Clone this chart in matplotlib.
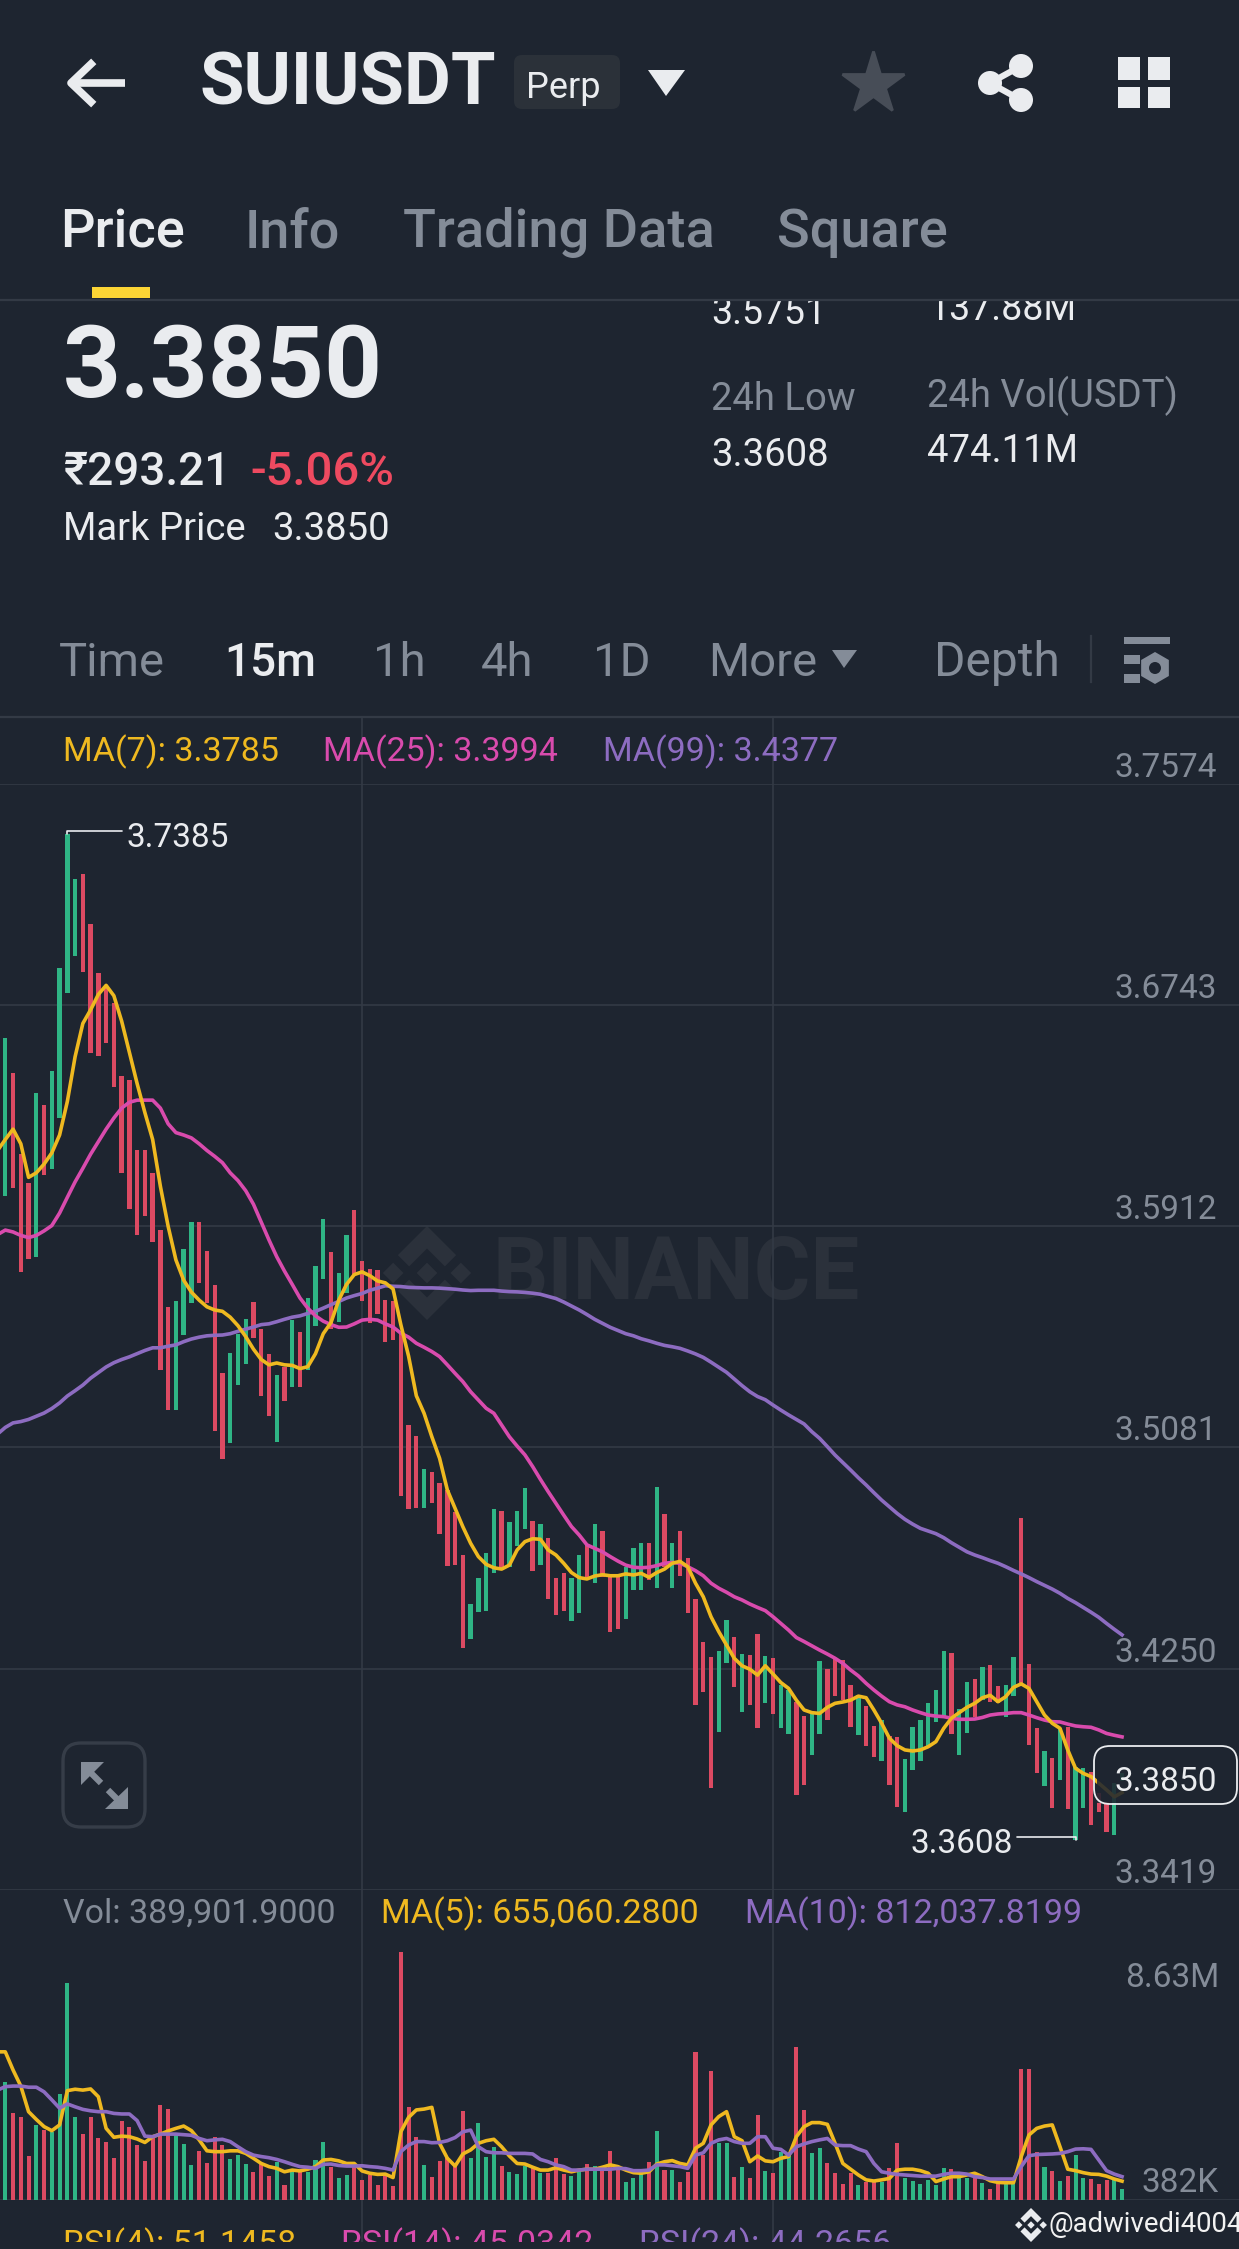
import matplotlib
matplotlib.use("Agg")
import matplotlib.pyplot as plt
from matplotlib.patches import Circle, FancyBboxPatch, Polygon, Rectangle, RegularPolygon
import numpy as np

# candles, index 0 .. 144
high = [3.6618, 3.6487, 3.6182, 3.6073, 3.6410, 3.6367, 3.6496, 3.6883, 3.7385, 3.7215,
        3.7235, 3.7046, 3.6861, 3.6816, 3.6749, 3.6477, 3.6460, 3.6197, 3.6197, 3.6112,
        3.5899, 3.5607, 3.5631, 3.5827, 3.5927, 3.5927, 3.5817, 3.5689, 3.5362, 3.5436,
        3.5508, 3.5565, 3.5627, 3.5525, 3.5433, 3.5352, 3.5383, 3.5559, 3.5513, 3.5642,
        3.5763, 3.5939, 3.5813, 3.5735, 3.5879, 3.5971, 3.5780, 3.5751, 3.5748, 3.5634,
        3.5629, 3.5508, 3.5166, 3.5123, 3.5001, 3.4989, 3.4946, 3.4921, 3.4840, 3.4677,
        3.4494, 3.4589, 3.4683, 3.4850, 3.4843, 3.4800, 3.4842, 3.4927, 3.4803, 3.4793,
        3.4740, 3.4592, 3.4611, 3.4592, 3.4677, 3.4715, 3.4793, 3.4768, 3.4602, 3.4596,
        3.4633, 3.4704, 3.4723, 3.4721, 3.4934, 3.4830, 3.4723, 3.4768, 3.4664, 3.4513,
        3.4350, 3.4293, 3.4316, 3.4433, 3.4368, 3.4306, 3.4300, 3.4382, 3.4296, 3.4289,
        3.4189, 3.4170, 3.4126, 3.4072, 3.4082, 3.4280, 3.4248, 3.4289, 3.4283, 3.4188,
        3.4151, 3.4110, 3.4035, 3.4057, 3.3997, 3.3995, 3.3910, 3.4032, 3.4057, 3.4122,
        3.4170, 3.4318, 3.4310, 3.4097, 3.4201, 3.4210, 3.4255, 3.4264, 3.4185, 3.4188,
        3.4293, 3.4815, 3.4266, 3.4026, 3.3942, 3.3913, 3.4026, 3.4032, 3.3882, 3.3876,
        3.3863, 3.3782, 3.3751, 3.3820, 3.3860]
low = [3.6025, 3.6056, 3.5738, 3.5790, 3.5795, 3.6105, 3.6127, 3.6318, 3.6786, 3.6927,
       3.6866, 3.6561, 3.6549, 3.6598, 3.6434, 3.6113, 3.5976, 3.5879, 3.5949, 3.5852,
       3.5371, 3.5223, 3.5223, 3.5503, 3.5622, 3.5699, 3.5622, 3.5144, 3.5037, 3.5096,
       3.5317, 3.5396, 3.5493, 3.5274, 3.5200, 3.5103, 3.5257, 3.5307, 3.5309, 3.5372,
       3.5537, 3.5714, 3.5525, 3.5552, 3.5659, 3.5726, 3.5631, 3.5547, 3.5582, 3.5475,
       3.5486, 3.4900, 3.4850, 3.4852, 3.4852, 3.4871, 3.4756, 3.4637, 3.4638, 3.4329,
       3.4360, 3.4463, 3.4465, 3.4611, 3.4627, 3.4633, 3.4712, 3.4773, 3.4618, 3.4641,
       3.4513, 3.4450, 3.4465, 3.4430, 3.4458, 3.4596, 3.4573, 3.4596, 3.4388, 3.4399,
       3.4438, 3.4544, 3.4544, 3.4583, 3.4552, 3.4633, 3.4552, 3.4599, 3.4460, 3.4112,
       3.4164, 3.3803, 3.4014, 3.4273, 3.4183, 3.4086, 3.4114, 3.4029, 3.4122, 3.4079,
       3.4029, 3.4004, 3.3777, 3.3813, 3.3925, 3.4005, 3.4057, 3.4147, 3.4132, 3.4030,
       3.4001, 3.3960, 3.3920, 3.3903, 3.3813, 3.3729, 3.3711, 3.3870, 3.3903, 3.3957,
       3.4051, 3.4070, 3.4004, 3.3926, 3.4010, 3.4070, 3.4132, 3.4126, 3.4120, 3.4067,
       3.4147, 3.4195, 3.3963, 3.3857, 3.3810, 3.3728, 3.3832, 3.3722, 3.3608, 3.3728,
       3.3663, 3.3713, 3.3636, 3.3626, 3.3830]
sides = ("GRRRGRGGGG" "RRRRRRRRRR" "RRGGGRRRRG" "GGRRRGRGRG" "GGRGGRRRRR"
         "RRRRGRRRRR" "GGGGRGGGRG" "RRRGGRGRRR" "GGGRGRGRRR" "RRGGRGRRGR"
         "GGRRGGRRRR" "GRRGRRGGGG" "GGRGGRGRRG" "GRRRGRGRGG" "RRRGG")

# moving averages start one candle left of the screen, index -1 .. 144
ma7 = [3.6196, 3.6237, 3.6276, 3.6221, 3.6095, 3.6112, 3.6145, 3.6187, 3.6254, 3.6380,
       3.6548, 3.6673, 3.6724, 3.6782, 3.6816, 3.6777, 3.6682, 3.6564, 3.6447, 3.6338,
       3.6237, 3.6061, 3.5911, 3.5785, 3.5709, 3.5664, 3.5634, 3.5609, 3.5597, 3.5592,
       3.5570, 3.5538, 3.5497, 3.5450, 3.5411, 3.5391, 3.5398, 3.5391, 3.5389, 3.5377,
       3.5384, 3.5433, 3.5508, 3.5550, 3.5634, 3.5693, 3.5730, 3.5740, 3.5726, 3.5706,
       3.5699, 3.5676, 3.5542, 3.5424, 3.5275, 3.5209, 3.5121, 3.5040, 3.4921, 3.4852,
       3.4783, 3.4721, 3.4671, 3.4642, 3.4629, 3.4624, 3.4639, 3.4696, 3.4727, 3.4738,
       3.4736, 3.4696, 3.4677, 3.4646, 3.4611, 3.4592, 3.4587, 3.4598, 3.4603, 3.4599,
       3.4599, 3.4606, 3.4602, 3.4608, 3.4593, 3.4611, 3.4624, 3.4646, 3.4653, 3.4633,
       3.4571, 3.4520, 3.4445, 3.4389, 3.4339, 3.4289, 3.4261, 3.4248, 3.4226, 3.4261,
       3.4230, 3.4198, 3.4176, 3.4132, 3.4095, 3.4085, 3.4082, 3.4105, 3.4120, 3.4125,
       3.4132, 3.4147, 3.4141, 3.4095, 3.4045, 3.3989, 3.3961, 3.3945, 3.3941, 3.3945,
       3.3957, 3.3976, 3.4026, 3.4064, 3.4085, 3.4105, 3.4120, 3.4141, 3.4150, 3.4126,
       3.4145, 3.4180, 3.4193, 3.4176, 3.4126, 3.4076, 3.4045, 3.4026, 3.3945, 3.3876,
       3.3857, 3.3845, 3.3820, 3.3795, 3.3769, 3.3785]
ma25 = [3.5880, 3.5897, 3.5890, 3.5877, 3.5869, 3.5877, 3.5894, 3.5914, 3.5961, 3.6020,
        3.6078, 3.6129, 3.6182, 3.6229, 3.6276, 3.6318, 3.6355, 3.6377, 3.6385, 3.6385,
        3.6385, 3.6355, 3.6296, 3.6263, 3.6254, 3.6243, 3.6221, 3.6196, 3.6174, 3.6150,
        3.6112, 3.6083, 3.6045, 3.5994, 3.5927, 3.5860, 3.5797, 3.5743, 3.5693, 3.5642,
        3.5604, 3.5575, 3.5555, 3.5542, 3.5532, 3.5533, 3.5545, 3.5559, 3.5562, 3.5559,
        3.5545, 3.5533, 3.5510, 3.5495, 3.5472, 3.5457, 3.5441, 3.5422, 3.5391, 3.5359,
        3.5328, 3.5290, 3.5259, 3.5228, 3.5209, 3.5165, 3.5121, 3.5086, 3.5053, 3.5009,
        3.4961, 3.4915, 3.4871, 3.4827, 3.4784, 3.4752, 3.4715, 3.4702, 3.4689, 3.4671,
        3.4654, 3.4639, 3.4631, 3.4629, 3.4631, 3.4637, 3.4646, 3.4649, 3.4646, 3.4633,
        3.4618, 3.4599, 3.4571, 3.4552, 3.4537, 3.4520, 3.4508, 3.4493, 3.4480, 3.4468,
        3.4445, 3.4420, 3.4395, 3.4367, 3.4352, 3.4336, 3.4320, 3.4305, 3.4289, 3.4270,
        3.4245, 3.4223, 3.4195, 3.4170, 3.4147, 3.4126, 3.4114, 3.4107, 3.4095, 3.4085,
        3.4076, 3.4072, 3.4070, 3.4064, 3.4060, 3.4060, 3.4061, 3.4067, 3.4076, 3.4080,
        3.4082, 3.4085, 3.4085, 3.4076, 3.4066, 3.4057, 3.4051, 3.4050, 3.4042, 3.4035,
        3.4032, 3.4030, 3.4020, 3.4007, 3.4000, 3.3994]
ma99 = [3.5131, 3.5156, 3.5173, 3.5178, 3.5186, 3.5198, 3.5210, 3.5227, 3.5248, 3.5274,
        3.5294, 3.5315, 3.5341, 3.5362, 3.5383, 3.5399, 3.5411, 3.5421, 3.5433, 3.5445,
        3.5455, 3.5455, 3.5461, 3.5466, 3.5478, 3.5488, 3.5495, 3.5500, 3.5502, 3.5503,
        3.5508, 3.5517, 3.5525, 3.5533, 3.5542, 3.5545, 3.5553, 3.5562, 3.5570, 3.5575,
        3.5584, 3.5592, 3.5604, 3.5617, 3.5629, 3.5642, 3.5651, 3.5659, 3.5671, 3.5679,
        3.5688, 3.5686, 3.5685, 3.5682, 3.5681, 3.5680, 3.5680, 3.5679, 3.5677, 3.5675,
        3.5672, 3.5670, 3.5671, 3.5671, 3.5671, 3.5668, 3.5666, 3.5665, 3.5663, 3.5660,
        3.5656, 3.5648, 3.5640, 3.5627, 3.5612, 3.5597, 3.5580, 3.5562, 3.5547, 3.5532,
        3.5520, 3.5508, 3.5500, 3.5489, 3.5481, 3.5472, 3.5464, 3.5459, 3.5453, 3.5443,
        3.5432, 3.5419, 3.5401, 3.5382, 3.5363, 3.5338, 3.5313, 3.5290, 3.5272, 3.5260,
        3.5240, 3.5221, 3.5203, 3.5186, 3.5169, 3.5140, 3.5115, 3.5084, 3.5052, 3.5024,
        3.4996, 3.4967, 3.4940, 3.4911, 3.4883, 3.4858, 3.4833, 3.4811, 3.4793, 3.4777,
        3.4767, 3.4757, 3.4742, 3.4723, 3.4706, 3.4689, 3.4677, 3.4667, 3.4656, 3.4646,
        3.4633, 3.4619, 3.4606, 3.4592, 3.4577, 3.4563, 3.4549, 3.4533, 3.4514, 3.4498,
        3.4480, 3.4462, 3.4443, 3.4420, 3.4398, 3.4377]

# volume in millions, index 0 .. 144
volume = [4.09, 3.03, 2.88, 1.53, 2.61, 2.43, 2.37, 3.70, 7.53, 2.90,
          2.29, 2.87, 2.14, 2.03, 1.45, 2.75, 2.53, 1.91, 1.37, 2.14,
          3.30, 3.16, 2.32, 1.93, 1.22, 1.70, 1.30, 2.20, 1.91, 1.44,
          1.56, 1.25, 0.98, 1.25, 0.83, 1.31, 0.52, 1.04, 0.98, 0.98,
          1.39, 2.03, 1.16, 0.75, 0.87, 1.16, 0.70, 0.87, 0.52, 0.87,
          0.50, 8.63, 3.24, 2.20, 1.22, 0.81, 1.36, 1.51, 1.18, 3.09,
          1.45, 2.69, 1.51, 1.83, 1.18, 0.98, 0.89, 1.18, 1.10, 0.95,
          0.93, 1.45, 0.90, 0.83, 1.04, 1.24, 1.18, 1.10, 1.69, 1.16,
          0.64, 0.75, 0.93, 1.31, 2.40, 1.04, 1.04, 0.61, 0.98, 5.13,
          1.56, 4.48, 1.97, 1.97, 0.79, 1.14, 0.75, 2.95, 1.02, 0.93,
          1.68, 1.56, 5.31, 3.13, 1.62, 1.82, 1.30, 0.93, 0.56, 0.95,
          0.52, 0.64, 0.64, 0.64, 1.10, 1.97, 0.75, 0.66, 0.56, 0.70,
          0.52, 1.10, 1.07, 0.87, 0.78, 0.93, 0.58, 0.38, 0.64, 0.56,
          0.64, 4.54, 4.54, 1.68, 1.14, 1.01, 0.67, 0.83, 1.56, 0.75,
          0.73, 0.56, 0.70, 0.75, 0.39]
vol_ma5 = [5.15, 5.15, 4.52, 3.96, 3.07, 2.80, 2.55, 2.41, 2.61, 3.80,
           3.85, 3.82, 3.86, 3.59, 2.49, 2.18, 2.22, 2.20, 2.12, 2.00,
           2.20, 2.29, 2.40, 2.49, 2.57, 2.41, 2.09, 1.71, 1.68, 1.68,
           1.71, 1.71, 1.62, 1.45, 1.27, 1.16, 1.10, 0.98, 1.04, 1.01,
           1.07, 1.16, 1.39, 1.41, 1.36, 1.27, 1.27, 1.01, 0.93, 0.89,
           0.90, 0.78, 2.37, 2.87, 3.13, 3.16, 3.22, 1.97, 1.45, 1.18,
           1.60, 1.74, 1.97, 2.06, 2.11, 1.85, 1.53, 1.27, 1.25, 1.14,
           1.04, 1.04, 1.12, 1.04, 0.98, 1.04, 1.07, 1.07, 1.14, 1.22,
           1.16, 1.04, 0.95, 0.93, 0.98, 1.25, 1.33, 1.37, 1.27, 1.22,
           1.80, 1.97, 2.61, 2.90, 3.07, 2.20, 2.06, 1.33, 1.53, 1.36,
           1.33, 1.45, 1.51, 2.20, 2.55, 2.69, 2.69, 2.63, 1.97, 1.27,
           1.07, 0.87, 0.70, 0.66, 0.70, 0.75, 1.04, 1.07, 1.07, 1.02,
           0.93, 0.64, 0.73, 0.81, 0.81, 0.87, 0.93, 0.81, 0.67, 0.61,
           0.60, 0.60, 1.51, 2.26, 2.49, 2.57, 2.61, 1.85, 1.07, 1.02,
           0.95, 0.90, 0.89, 0.83, 0.73, 0.655]
vol_ma10 = [3.82, 3.94, 3.96, 3.96, 3.92, 3.92, 3.76, 3.48, 3.19, 3.34,
            3.24, 3.15, 3.10, 3.07, 3.07, 3.01, 2.99, 2.99, 2.76, 2.22,
            2.20, 2.29, 2.29, 2.29, 2.27, 2.25, 2.14, 2.06, 2.09, 2.11,
            2.03, 1.85, 1.68, 1.56, 1.51, 1.47, 1.41, 1.33, 1.24, 1.16,
            1.14, 1.10, 1.24, 1.25, 1.20, 1.18, 1.18, 1.19, 1.16, 1.14,
            1.10, 1.04, 1.68, 1.91, 2.03, 2.03, 1.99, 2.00, 2.06, 2.17,
            2.37, 2.43, 1.85, 1.68, 1.64, 1.64, 1.62, 1.62, 1.62, 1.60,
            1.41, 1.33, 1.22, 1.16, 1.04, 1.04, 1.07, 1.07, 1.07, 1.07,
            1.10, 1.09, 1.02, 1.02, 1.04, 1.22, 1.22, 1.19, 1.16, 1.10,
            1.56, 1.64, 1.97, 2.09, 2.14, 2.03, 1.97, 1.97, 2.20, 2.20,
            1.80, 1.76, 1.56, 1.85, 1.95, 2.03, 2.09, 2.14, 1.91, 1.89,
            1.89, 1.77, 1.68, 1.27, 0.98, 0.93, 0.89, 0.87, 0.85, 0.83,
            0.83, 0.83, 0.89, 0.93, 0.93, 0.90, 0.81, 0.78, 0.73, 0.73,
            0.73, 0.73, 1.16, 1.54, 1.58, 1.59, 1.60, 1.62, 1.68, 1.77,
            1.78, 1.76, 1.39, 1.02, 0.90, 0.812]

price_ticks = [3.7574, 3.6743, 3.5912, 3.5081, 3.4250, 3.3419]
time_ticks = [46, 99]
last_price = 3.3850

WIDTH, HEIGHT = 1239, 2249
BG = '#1e2530'
GRID = '#333a45'
GRAY = '#848c98'
LIGHT = '#eaecef'
GREEN = '#2fb585'
RED = '#dc4a62'
YELLOW = '#efb920'
PINK = '#d94bad'
PURPLE = '#8d6cc1'
AXIS_SIZE = 24
LEGEND_SIZE = 24.5
MA_LW = 2.6

plt.rcParams['font.family'] = ['Roboto', 'DejaVu Sans']


def px_axes(fig, top, bottom):
    ax = fig.add_axes([0, 1 - bottom / HEIGHT, 1, (bottom - top) / HEIGHT])
    ax.patch.set_alpha(0)
    ax.set_xlim(-0.683, 159.08)
    ax.tick_params(length=0, labelbottom=False, labelleft=False)
    for side in ax.spines.values():
        side.set_visible(False)
    return ax


def ui_text(ax, x, y, s, size, color=LIGHT, weight='normal', ha='left', zorder=5):
    ax.text(x, y + 3, s, fontsize=size, color=color, fontweight=weight, ha=ha, va='center', zorder=zorder)


def logo(ax, cx, cy, s, color, zorder=1):
    top = np.array([(0, -1), (.62, -.38), (.38, -.14), (0, -.52), (-.38, -.14), (-.62, -.38)])
    diamond = np.array([(0, -.22), (.22, 0), (0, .22), (-.22, 0)])
    shapes = [top, top * [1, -1], diamond, diamond + [.72, 0], diamond - [.72, 0]]
    for shape in shapes:
        ax.add_patch(Polygon(shape * s + [cx, cy], color=color, lw=0, zorder=zorder))


def draw_header(ui):
    # back arrow
    ui.plot([72, 125], [83, 83], color=LIGHT, lw=5.5, solid_capstyle='butt')
    ui.plot([91, 71, 91], [64, 83, 102], color=LIGHT, lw=5.5)
    ui_text(ui, 199, 82, 'SUIUSDT', 52, weight='bold')
    ui.add_patch(FancyBboxPatch((520, 61), 94, 42, boxstyle='round,pad=6,rounding_size=8', color='#2b3139', lw=0))
    ui_text(ui, 526, 85, 'Perp', 26)
    ui.add_patch(Polygon([(648, 70), (685, 70), (666, 96)], color=LIGHT, lw=0))
    ui.plot([873], [84], marker='*', ms=47, color='#474d57', mew=2)
    ui.plot([1021, 990, 1021], [66, 83, 100], color=LIGHT, lw=4.5)
    for x, y in [(1021, 66), (990, 83), (1021, 100)]:
        ui.add_patch(Circle((x, y), 12, color=LIGHT, lw=0))
    for x in (1118, 1148):
        for y, h in ((57, 23), (87, 21)):
            ui.add_patch(Rectangle((x, y), 22, h, color=LIGHT, lw=0))

    ui_text(ui, 60, 230, 'Price', 39, weight='medium')
    ui_text(ui, 245, 230, 'Info', 39, GRAY, 'medium')
    ui_text(ui, 403, 230, 'Trading Data', 39, GRAY, 'medium')
    ui_text(ui, 777, 230, 'Square', 39, GRAY, 'medium')

    # stats row is cut by the tab bar
    ui_text(ui, 711, 311, '3.5751', 27, zorder=2)
    ui_text(ui, 929, 307, '137.88M', 27, zorder=2)
    ui.add_patch(Rectangle((0, 262), WIDTH, 38, color=BG, lw=0, zorder=3))
    ui.add_patch(Rectangle((92, 287), 58, 11, color='#fcd535', lw=0, zorder=4))
    ui.plot([0, WIDTH], [300, 300], color=GRID, lw=1.6, zorder=4)

    ui_text(ui, 63, 366, '3.3850', 73, weight='bold')
    ui_text(ui, 63, 469, '₹293.21', 33, weight='medium')
    ui_text(ui, 250, 469, '-5.06%', 34, '#ee4a60', 'medium')
    ui_text(ui, 63, 527, 'Mark Price', 27.5)
    ui_text(ui, 272, 527, '3.3850', 27.5)
    ui_text(ui, 711, 396, '24h Low', 27.5, GRAY)
    ui_text(ui, 711, 452, '3.3608', 27.5)
    ui_text(ui, 927, 393, '24h Vol(USDT)', 27.5, GRAY)
    ui_text(ui, 927, 448, '474.11M', 27.5)

    ui_text(ui, 59, 660, 'Time', 34, GRAY)
    ui_text(ui, 224, 660, '15m', 33, weight='medium')
    ui_text(ui, 373, 660, '1h', 34, GRAY)
    ui_text(ui, 481, 660, '4h', 34, GRAY)
    ui_text(ui, 593, 660, '1D', 34, GRAY)
    ui_text(ui, 708, 660, 'More', 34, GRAY)
    ui.add_patch(Polygon([(832, 650), (857, 650), (844, 668)], color=GRAY, lw=0))
    ui_text(ui, 934, 660, 'Depth', 34.5, GRAY)
    ui.plot([1091, 1091], [636, 682], color=GRID, lw=1.6)
    ui.add_patch(Rectangle((1124, 637), 46, 7, color=GRAY, lw=0))
    ui.add_patch(Rectangle((1124, 655), 16, 9, color=GRAY, lw=0))
    ui.add_patch(Rectangle((1124, 674), 16, 9, color=GRAY, lw=0))
    ui.add_patch(RegularPolygon((1155, 668), 6, radius=16, color=GRAY, lw=0))
    ui.add_patch(Circle((1155, 668), 6, color=BG, lw=0))
    ui.plot([0, WIDTH], [717, 717], color=GRID, lw=1.6)

    ui_text(ui, 63, 749, 'MA(7): 3.3785', LEGEND_SIZE, YELLOW)
    ui_text(ui, 323, 749, 'MA(25): 3.3994', LEGEND_SIZE, PINK)
    ui_text(ui, 603, 749, 'MA(99): 3.4377', LEGEND_SIZE, PURPLE)
    ui_text(ui, 63, 1911, 'Vol: 389,901.9000', LEGEND_SIZE, GRAY)
    ui_text(ui, 381, 1911, 'MA(5): 655,060.2800', LEGEND_SIZE, YELLOW)
    ui_text(ui, 745, 1911, 'MA(10): 812,037.8199', LEGEND_SIZE, PURPLE)

    # RSI row is cut by the lower edge of the chart area
    ui_text(ui, 63, 2242, 'RSI(4): 51.1458', LEGEND_SIZE, YELLOW, zorder=2)
    ui_text(ui, 341, 2242, 'RSI(14): 45.0342', LEGEND_SIZE, PINK, zorder=2)
    ui_text(ui, 639, 2242, 'RSI(24): 44.2656', LEGEND_SIZE, PURPLE, zorder=2)
    ui.add_patch(Rectangle((0, 2242), WIDTH, 10, color=BG, lw=0, zorder=3))

    logo(ui, 1031, 2225, 17, LIGHT, zorder=4)
    ui_text(ui, 1049, 2222, '@adwivedi4004', 19.8, '#f2f2f2')

    # expand button
    ui.add_patch(FancyBboxPatch((77, 1757), 54, 56, boxstyle='round,pad=14,rounding_size=18',
                                fc='none', ec='#363d48', lw=2.4))
    ui.add_patch(Polygon([(81, 1762), (104, 1762), (81, 1785)], color=GRAY, lw=0))
    ui.add_patch(Polygon([(128, 1787), (128, 1809), (105, 1809)], color=GRAY, lw=0))
    ui.plot([90, 101], [1772, 1783], color=GRAY, lw=4.5, solid_capstyle='butt')
    ui.plot([108, 119], [1790, 1801], color=GRAY, lw=4.5, solid_capstyle='butt')

    # watermark
    logo(ui, 427, 1273, 47, '#2b313b')
    ui.text(493, 1275, 'BINANCE', fontsize=62.5, fontweight='bold', color='#2b313b', va='center', zorder=1)

    # time grid keeps going above and below the panels
    for t in time_ticks:
        x = 5.3 + 7.755 * t
        ui.plot([x, x], [717, 784], color=GRID, lw=1.2, zorder=1)
        ui.plot([x, x], [2200, 2249], color=GRID, lw=1.2, zorder=1)


def draw_price(ax):
    idx = np.arange(len(high))
    lows = np.array(low)
    heights = np.array(high) - lows
    colors = [GREEN if s == 'G' else RED for s in sides]
    ax.bar(idx, heights, bottom=lows, width=0.56, color=colors, zorder=3)

    ma_x = np.arange(len(ma7)) - 1
    ax.plot(ma_x, ma99, color=PURPLE, lw=MA_LW, zorder=4)
    ax.plot(ma_x, ma25, color=PINK, lw=MA_LW, zorder=5)
    ax.plot(ma_x, ma7, color=YELLOW, lw=MA_LW, zorder=6)

    ax.set_ylim(price_ticks[-1], price_ticks[0])
    ax.set_yticks(price_ticks)
    ax.set_xticks(time_ticks)
    ax.grid(True, color=GRID, lw=1.2, zorder=0)
    ax.set_axisbelow(True)
    for t in price_ticks:
        ax.annotate(f'{t:.4f}', xy=(0.9814, t), xycoords=ax.get_yaxis_transform(), xytext=(1, 16),
                    textcoords='offset pixels', ha='right', va='center', fontsize=AXIS_SIZE, color=GRAY)

    ax.annotate('3.7385', xy=(8, 3.7385), xytext=(59, -4), textcoords='offset pixels', ha='left', va='center',
                fontsize=AXIS_SIZE, color=LIGHT, zorder=8,
                arrowprops=dict(arrowstyle='-', color=LIGHT, lw=1.2, shrinkA=1, shrinkB=0,
                                connectionstyle='angle,angleA=0,angleB=90,rad=0', relpos=(0, 0.72)))
    ax.annotate('3.3608', xy=(138, 3.3608), xytext=(-63, -4), textcoords='offset pixels', ha='right', va='center',
                fontsize=AXIS_SIZE, color=LIGHT, zorder=8,
                arrowprops=dict(arrowstyle='-', color=LIGHT, lw=1.2, shrinkA=1, shrinkB=0,
                                connectionstyle='angle,angleA=0,angleB=90,rad=0', relpos=(1, 0.72)))

    # current price flag
    tr = ax.get_yaxis_transform()
    ax.add_patch(Rectangle((1097 / WIDTH, last_price - 0.0105), 137 / WIDTH, 0.021,
                           fc=BG, ec='none', alpha=0.88, transform=tr, zorder=7))
    ax.annotate(f'{last_price:.4f}', xy=(0.9814, last_price), xycoords=tr, xytext=(1, -7), textcoords='offset pixels',
                ha='right', va='center', fontsize=AXIS_SIZE, color=LIGHT, zorder=9)


def draw_volume(ax):
    idx = np.arange(len(volume))
    colors = [GREEN if s == 'G' else RED for s in sides]
    ax.bar(idx, volume, width=0.52, color=colors, zorder=3)
    ma_x = np.arange(len(vol_ma5)) - 1
    ax.plot(ma_x, vol_ma5, color=YELLOW, lw=MA_LW, zorder=4)
    ax.plot(ma_x, vol_ma10, color=PURPLE, lw=MA_LW, zorder=5)
    ax.set_ylim(0, 10.775)
    ax.set_yticks([0])
    ax.set_xticks(time_ticks)
    ax.grid(True, color=GRID, lw=1.2, zorder=0)
    ax.set_axisbelow(True)
    ax.annotate('8.63M', xy=(0.9814, 8.63), xycoords=ax.get_yaxis_transform(), xytext=(3, -26),
                textcoords='offset pixels', ha='right', va='center', fontsize=AXIS_SIZE, color=GRAY)
    ax.annotate('382K', xy=(0.9814, 0.382), xycoords=ax.get_yaxis_transform(), xytext=(3, 6),
                textcoords='offset pixels', ha='right', va='center', fontsize=AXIS_SIZE, color=GRAY)


def main():
    assert len(high) == len(low) == len(volume) == len(sides) == 145
    assert len(ma7) == len(ma25) == len(ma99) == len(vol_ma5) == len(vol_ma10) == 146

    fig = plt.figure(figsize=(WIDTH / 100, HEIGHT / 100), dpi=100, facecolor=BG)
    ui = fig.add_axes([0, 0, 1, 1], facecolor=BG, zorder=0)
    ui.set_xlim(0, WIDTH)
    ui.set_ylim(HEIGHT, 0)
    ui.axis('off')
    draw_header(ui)

    price_ax = px_axes(fig, 783.5, 1890)
    price_ax.set_zorder(1)
    draw_price(price_ax)
    vol_ax = px_axes(fig, 1890, 2200)
    vol_ax.set_zorder(1)
    draw_volume(vol_ax)

    # outline of the flag, on top of everything
    ui2 = fig.add_axes([0, 0, 1, 1], zorder=2)
    ui2.patch.set_alpha(0)
    ui2.set_xlim(0, WIDTH)
    ui2.set_ylim(HEIGHT, 0)
    ui2.axis('off')
    ui2.add_patch(FancyBboxPatch((1107, 1759), 117, 32, boxstyle='round,pad=13,rounding_size=16',
                                 fc='none', ec=LIGHT, lw=1.3))

    fig.savefig('out.png', dpi=100, facecolor=BG)


if __name__ == "__main__":
    main()
